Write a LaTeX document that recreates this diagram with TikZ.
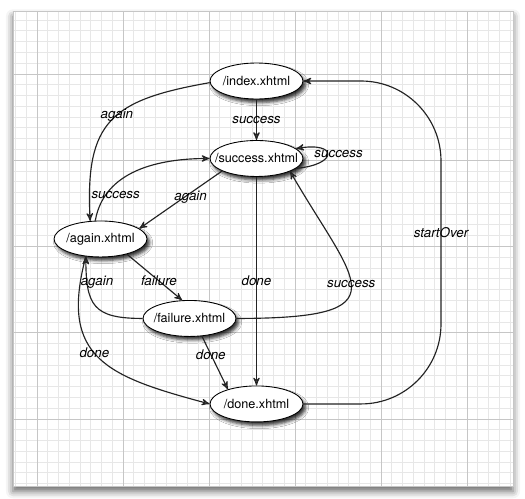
\documentclass[tikz,border=0pt]{standalone}
\usepackage{fontspec}
\setmainfont{TeX Gyre Heros}
\usepackage{tikz}
\usetikzlibrary{arrows, positioning, shapes.geometric, shadows.blur}
\definecolor{gridminor}{RGB}{231,231,231}
\definecolor{gridmajor}{RGB}{198,198,198}
\definecolor{wire}{RGB}{35,35,35}
\tikzset{
-, % plain lines unless a rule says otherwise
>=stealth', % slim filled arrow heads
node distance=1.55cm, % centre to centre distance used by below of
page/.style={ellipse, draw=black, line width=0.5pt, fill=white, minimum width=1.86cm, minimum height=0.72cm, inner xsep=-8pt, inner ysep=0pt, font=\fontsize{7.2}{9}\selectfont, blur shadow={shadow xshift=1.5pt, shadow yshift=-2pt, shadow blur radius=1.8pt, shadow opacity=80}}, % one xhtml page
outcome/.style={font=\fontsize{7.6}{9}\selectfont\itshape, inner sep=0pt}, % label of a navigation rule
rule/.style={->, draw=wire, line width=0.65pt}, % navigation rule
}

\begin{document}
\begin{tikzpicture}[x=0.02cm, y=-0.02cm]
      \useasboundingbox (0,0) rectangle (525,498);
      % the sheet of graph paper
      \fill[white, blur shadow={shadow xshift=0pt, shadow yshift=-3pt, shadow blur radius=4pt, shadow opacity=60}] (13,11) rectangle (513,486);
      \begin{scope}
        \clip (13,11) rectangle (513,486);
        \foreach \i in {-3,...,44} \draw[gridminor, line width=0.5pt] ({37+10.75*\i},11) -- ({37+10.75*\i},486);
        \foreach \j in {-6,...,38} \draw[gridminor, line width=0.5pt] (13,{74+10.78*\j}) -- (513,{74+10.78*\j});
        \foreach \i in {0,...,5} \draw[gridmajor, line width=0.5pt] ({37+86*\i},11) -- ({37+86*\i},486);
        \foreach \j in {0,...,4} \draw[gridmajor, line width=0.5pt] (13,{74+86.25*\j}) -- (513,{74+86.25*\j});
      \end{scope}
      \draw[gridmajor, line width=0.4pt] (13,11) rectangle (513,486);

      \node[page] (index) at (256.5,81) {/index.xhtml};
      \node[page, below of=index] (success) {/success.xhtml};
      \node[page, below of=success, xshift=-3.12cm, yshift=-0.06cm] (again) {/again.xhtml};
      \node[page, below of=again, xshift=1.78cm, yshift=-0.04cm] (failure) {/failure.xhtml};
      \node[page, below of=success, yshift=-3.36cm] (done) {/done.xhtml};
      \coordinate (turn) at (441,81);

      \draw[rule] (index.182) edge[out=190, in=93, looseness=1.4] node[outcome, pos=0.45] {again} (again.120)
      (index) edge node[outcome] {success} (success)
      (success.-14) edge[out=5, in=10, looseness=5.5] node[outcome, pos=0.5, xshift=0.22cm] {success} (success.14)
      (again.106) edge[out=80, in=180] node[outcome, pos=0.2, xshift=0.2cm] {success} (success.west)
      (success.200) edge node[outcome, pos=0.38, yshift=-0.08cm] {again} (again.15)
      (success) edge node[outcome] {done} (done)
      (failure.east) edge[out=0, in=-60, out distance=3.4cm, in distance=2.6cm] node[outcome, pos=0.52] {success} (success.-21)
      (again.-30) edge node[outcome, pos=0.58] {failure} (failure.112)
      (failure.west) edge[out=180, in=-90, looseness=1.5] node[outcome, pos=0.8, xshift=0.2cm] {again} (again.-130)
      (failure.-55) edge node[outcome, pos=0.34] {done} (done.153)
      (again.-130) edge[out=-105, in=165, looseness=1.4] node[outcome, pos=0.46] {done} (done.west);
      \draw[rule, rounded corners=1.6cm] (done.east) -| node[outcome, pos=0.765] {startOver} (turn) -- (index.east);
    \end{tikzpicture}
\end{document}
